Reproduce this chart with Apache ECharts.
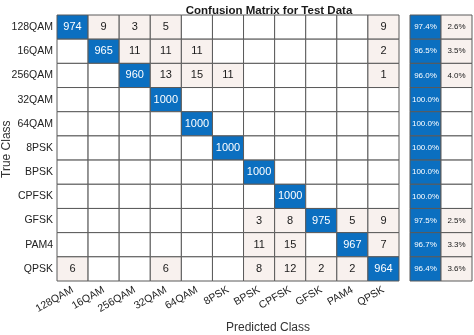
<!DOCTYPE html>
<html>
<head>
<meta charset="utf-8">
<script src="https://cdn.jsdelivr.net/npm/echarts@6/dist/echarts.min.js"></script>
<style>
  html, body { margin: 0; padding: 0; background: #fff; }
  #chart { width: 474px; height: 335px; }
</style>
</head>
<body>
<div id="chart"></div>
<script>
// Class names shared by both axes
const classes = ['128QAM', '16QAM', '256QAM', '32QAM', '64QAM', '8PSK', 'BPSK', 'CPFSK', 'GFSK', 'PAM4', 'QPSK'];

// Confusion counts: one row per true class, one column per predicted class
const row128QAM = [974, 9, 3, 5, 0, 0, 0, 0, 0, 0, 9];
const row16QAM  = [0, 965, 11, 11, 11, 0, 0, 0, 0, 0, 2];
const row256QAM = [0, 0, 960, 13, 15, 11, 0, 0, 0, 0, 1];
const row32QAM  = [0, 0, 0, 1000, 0, 0, 0, 0, 0, 0, 0];
const row64QAM  = [0, 0, 0, 0, 1000, 0, 0, 0, 0, 0, 0];
const row8PSK   = [0, 0, 0, 0, 0, 1000, 0, 0, 0, 0, 0];
const rowBPSK   = [0, 0, 0, 0, 0, 0, 1000, 0, 0, 0, 0];
const rowCPFSK  = [0, 0, 0, 0, 0, 0, 0, 1000, 0, 0, 0];
const rowGFSK   = [0, 0, 0, 0, 0, 0, 3, 8, 975, 5, 9];
const rowPAM4   = [0, 0, 0, 0, 0, 0, 11, 15, 0, 967, 7];
const rowQPSK   = [6, 0, 0, 6, 0, 0, 8, 12, 2, 2, 964];
const counts = [row128QAM, row16QAM, row256QAM, row32QAM, row64QAM, row8PSK, rowBPSK, rowCPFSK, rowGFSK, rowPAM4, rowQPSK];

const summaryCols = ['correct', 'incorrect'];

const BLUE = '#0b6fc0';
const PALE = '#f8f1ee';
const GRIDLINE = '#5a5a5a';
const FONT = '"Liberation Sans", Arial, sans-serif';

// Matrix cells: [predicted, true, count]
const matrixData = [];
counts.forEach((row, r) => row.forEach((v, c) => matrixData.push([c, r, v])));

// Row summary: percentage correct / incorrect per true class
const summaryData = [];
counts.forEach((row, r) => {
  const total = row.reduce((a, b) => a + b, 0);
  const correct = row[r] / total * 100;
  summaryData.push([0, r, correct]);
  summaryData.push([1, r, 100 - correct]);
});

function cell(api, fill, text, textFill, font) {
  const p = api.coord([api.value(0), api.value(1)]);
  const s = api.size([1, 1]);
  const children = [{
    type: 'rect',
    shape: { x: p[0] - s[0] / 2, y: p[1] - s[1] / 2, width: s[0], height: s[1] },
    style: { fill: fill, stroke: GRIDLINE, lineWidth: 1 }
  }];
  if (text) {
    children.push({
      type: 'text',
      style: { text: text, x: p[0], y: p[1], align: 'center', verticalAlign: 'middle', fill: textFill, font: font }
    });
  }
  return { type: 'group', children: children };
}

const chart = echarts.init(document.getElementById('chart'), null, { renderer: 'canvas' });

chart.setOption({
  animation: false,
  backgroundColor: '#fff',
  title: {
    text: 'Confusion Matrix for Test Data',
    left: 264, top: 0, textAlign: 'center',
    textStyle: { fontSize: 11.5, fontWeight: 'bold', color: '#1a1a1a', fontFamily: FONT }
  },
  graphic: [
    { type: 'text', left: 226, top: 322,
      style: { text: 'Predicted Class', font: '12px ' + FONT, fill: '#333' } },
    { type: 'text', x: 1, y: 178, rotation: Math.PI / 2,
      style: { text: 'True Class', font: '12px ' + FONT, fill: '#333', align: 'left', verticalAlign: 'top' },
      originX: 0, originY: 0 }
  ],
  grid: [
    { left: 57, top: 15, width: 342, height: 266 },
    { left: 410, top: 15, width: 62, height: 266 }
  ],
  xAxis: [
    {
      gridIndex: 0, type: 'category', data: classes,
      axisLine: { show: false }, axisTick: { show: false },
      axisLabel: { rotate: 30, fontSize: 10.5, color: '#222', fontFamily: FONT, margin: 8, interval: 0 }
    },
    {
      gridIndex: 1, type: 'category', data: summaryCols,
      axisLine: { show: false }, axisTick: { show: false }, axisLabel: { show: false }
    }
  ],
  yAxis: [
    {
      gridIndex: 0, type: 'category', data: classes, inverse: true,
      axisLine: { show: false }, axisTick: { show: false },
      axisLabel: { fontSize: 10.5, color: '#222', fontFamily: FONT, margin: 4 }
    },
    {
      gridIndex: 1, type: 'category', data: classes, inverse: true,
      axisLine: { show: false }, axisTick: { show: false }, axisLabel: { show: false }
    }
  ],
  series: [
    {
      type: 'custom', xAxisIndex: 0, yAxisIndex: 0, data: matrixData,
      renderItem: function (params, api) {
        const v = api.value(2);
        const diag = api.value(0) === api.value(1);
        const fill = v === 0 ? '#fff' : (diag ? BLUE : PALE);
        return cell(api, fill, v === 0 ? '' : String(v), diag ? '#fff' : '#1a1a1a', '11px ' + FONT);
      }
    },
    {
      type: 'custom', xAxisIndex: 1, yAxisIndex: 1, data: summaryData,
      renderItem: function (params, api) {
        const v = api.value(2);
        const correctCol = api.value(0) === 0;
        const fill = v === 0 ? '#fff' : (correctCol ? BLUE : PALE);
        const text = v === 0 ? '' : v.toFixed(1) + '%';
        return cell(api, fill, text, correctCol ? '#fff' : '#1a1a1a', '8px ' + FONT);
      }
    }
  ]
});
</script>
</body>
</html>
